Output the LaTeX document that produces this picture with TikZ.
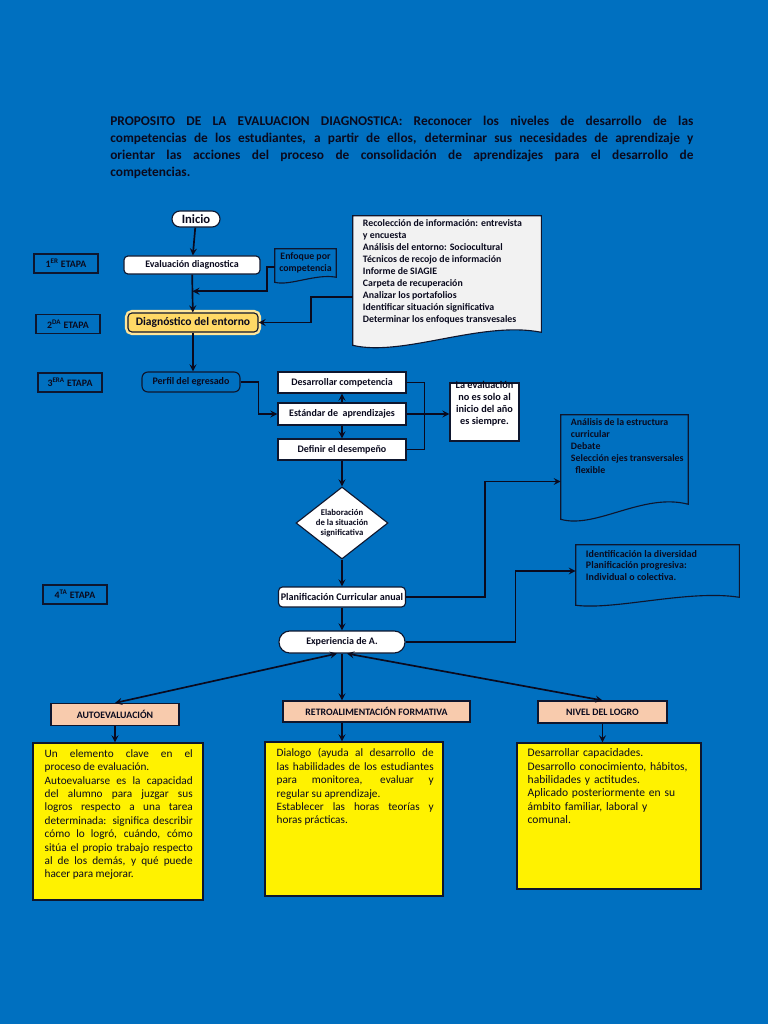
\documentclass[tikz,border=0pt]{standalone}
\usepackage{fontspec}
\setmainfont{Carlito}
\usetikzlibrary{shapes.geometric, arrows, calc}

\definecolor{bgblue}{RGB}{0,112,192}
\definecolor{edge}{RGB}{14,22,46}
\definecolor{ink}{RGB}{10,10,30}
\definecolor{peach}{RGB}{248,203,173}
\definecolor{gold}{RGB}{255,217,102}
\definecolor{halo}{RGB}{255,230,153}
\definecolor{paper}{RGB}{242,242,242}

\begin{document}
\begin{tikzpicture}[
    x=0.025cm, y=-0.025cm,
    >=stealth,
    arrow/.style={->, draw=ink, line width=1.2pt},
    link/.style={draw=ink, line width=1.2pt},
    stage/.style={rectangle, draw=edge, line width=0.8pt, fill=bgblue, text=ink, minimum width=1.6cm, minimum height=0.475cm, inner sep=1pt, font=\fontsize{7}{8}\selectfont\bfseries},
    flowbox/.style={rectangle, draw=edge, line width=0.8pt, fill=white, text=ink, inner sep=1pt, font=\fontsize{7.1}{8}\selectfont\bfseries},
    pill/.style={flowbox, rounded corners=0.2cm},
    decision/.style={diamond, draw=edge, line width=0.8pt, fill=white, text=ink, minimum width=2.3cm, minimum height=1.8cm, aspect=1.3, inner sep=0pt, align=center, font=\fontsize{6.2}{7.2}\selectfont\bfseries},
    docbody/.style={rectangle, inner sep=0pt},
    docline/.style={draw=edge, line width=0.8pt},
    doctext/.style={text=ink, inner sep=0pt, align=left, font=\fontsize{7}{8.5}\selectfont\bfseries},
    tag/.style={rectangle, draw=edge, line width=0.8pt, fill=peach, text=ink, inner sep=1pt, font=\fontsize{7}{8}\selectfont\bfseries},
    note/.style={rectangle, draw=edge, line width=0.8pt, fill=yellow},
    notetext/.style={text=ink, inner sep=0pt, font=\fontsize{8}{9.5}\selectfont},
    title/.style={text=ink, inner sep=0pt, text width=14.575cm, align=justify, font=\fontsize{9.5}{12.1}\selectfont\bfseries}
]
    \useasboundingbox (0,0) rectangle (768,1024);
    \fill[bgblue] (0,0) rectangle (768,1024);

    % purpose
    \node[title, anchor=north west] (purpose) at (110,116) {PROPOSITO DE LA EVALUACION DIAGNOSTICA: Reconocer los niveles de desarrollo de las\linebreak competencias de los estudiantes, a partir de ellos, determinar sus necesidades de aprendizaje y\linebreak orientar las acciones del proceso de consolidación de aprendizajes para el desarrollo de\linebreak competencias.};

    % stages
    \node[stage] (stage1) at (66,263.5) {1\textsuperscript{ER} ETAPA};
    \node[stage] (stage2) at (68,324) {2\textsuperscript{DA} ETAPA};
    \node[stage] (stage3) at (70,382.5) {3\textsuperscript{ERA} ETAPA};
    \node[stage] (stage4) at (75,594.5) {4\textsuperscript{TA} ETAPA};

    % main flow
    \node[pill, minimum width=1.2cm, minimum height=0.4cm, font=\fontsize{9}{10}\selectfont\bfseries] (inicio) at (196,219) {Inicio};
    \node[flowbox, rounded corners=0.1cm, minimum width=3.4cm, minimum height=0.45cm] (evald) at (192,265) {Evaluación diagnostica};
    \node[flowbox, rounded corners=0.1cm, fill=gold, preaction={draw=halo, line width=0.15cm}, minimum width=3.25cm, minimum height=0.475cm, font=\fontsize{8.2}{9}\selectfont\bfseries] (diag) at (193,322.5) {Diagnóstico del entorno};
    \coordinate (evalmid) at ($(evald.south)!0.44!(diag.north)$);
    \node[flowbox, fill=bgblue, rounded corners=0.15cm, minimum width=2.45cm, minimum height=0.5cm] (perfil) at (191,382) {Perfil del egresado};
    \node[flowbox, minimum width=3.2cm, minimum height=0.525cm] (desar) at (342,382.5) {Desarrollar competencia};
    \node[flowbox, minimum width=3.2cm, minimum height=0.55cm] (estand) at (342,414) {Estándar de \ aprendizajes};
    \node[flowbox, minimum width=3.2cm, minimum height=0.525cm] (defin) at (342,449.5) {Definir el desempeño};
    \node[decision] (elab) at (342,523) {Elaboración\\de la situación\\significativa};
    \node[flowbox, rounded corners=0.1cm, minimum width=3.175cm, minimum height=0.5cm, font=\fontsize{7.2}{8}\selectfont\bfseries] (planif) at (342,597) {Planificación Curricular anual};
    \node[pill, rounded corners=0.27cm, minimum width=3.15cm, minimum height=0.55cm] (exper) at (342,642) {Experiencia de A.};

    % side note
    \node[flowbox, minimum width=1.725cm, minimum height=1.45cm] (laeval) at (484.5,412) {};
    \node[doctext, font=\fontsize{7.3}{8.5}\selectfont\bfseries, align=center, anchor=north] (laevaltext) at ($(laeval.north)+(0,-1)$) {La evaluación\\no es solo al\\inicio del año\\es siempre.};

    % documents
    \node[docbody, minimum width=1.525cm, minimum height=0.7cm] (enfoque) at (305.5,263) {};
    \draw[docline, fill=bgblue] (enfoque.north west) -- (enfoque.north east) -- (enfoque.south east) .. controls +(-20,-4) and +(15,4) .. ($(enfoque.south west)+(0,5)$) -- cycle;
    \node[doctext, align=center] (enfoquetext) at (enfoque) {Enfoque por\\competencia};

    \node[docbody, minimum width=4.7cm, minimum height=2.9cm] (recol) at (447,274) {};
    \draw[docline, fill=paper] (recol.north west) -- (recol.north east) -- (recol.south east) .. controls +(-60,-12) and +(50,12) .. ($(recol.south west)+(0,13)$) -- cycle;
    \node[doctext, anchor=north west] (recoltext) at ($(recol.north west)+(10,4)$) {Recolección de información: entrevista\\y encuesta\\Análisis del entorno: Sociocultural\\Técnicos de recojo de información\\Informe de SIAGIE\\Carpeta de recuperación\\Analizar los portafolios\\Identificar situación significativa\\Determinar los enfoques transvesales};

    \node[docbody, minimum width=3.175cm, minimum height=2.225cm] (analisis) at (624.5,459.5) {};
    \draw[docline] (analisis.north west) -- (analisis.north east) -- (analisis.south east) .. controls +(-45,-12) and +(35,10) .. ($(analisis.south west)+(0,15)$) -- cycle;
    \node[doctext, font=\fontsize{7}{8.4}\selectfont\bfseries, anchor=north west] (analisistext) at ($(analisis.north west)+(10,4)$) {Análisis de la estructura\\curricular\\Debate\\Selección ejes transversales\\\ \ flexible};

    \node[docbody, minimum width=4.075cm, minimum height=1.3cm] (plan2) at (657.5,571) {};
    \draw[docline] (plan2.north west) -- (plan2.north east) -- (plan2.south east) .. controls +(-50,-8) and +(40,5) .. ($(plan2.south west)+(0,8)$) -- cycle;
    \node[doctext, font=\fontsize{7.1}{8.5}\selectfont\bfseries, anchor=north west] (plan2text) at ($(plan2.north west)+(10,5)$) {Identificación la diversidad\\Planificación progresiva:\\Individual o colectiva.};

    % evaluation types
    \node[tag, minimum width=3.2cm, minimum height=0.55cm] (auto) at (115,714.5) {AUTOEVALUACIÓN};
    \node[tag, minimum width=4.675cm, minimum height=0.525cm] (retro) at (376.5,711.5) {RETROALIMENTACIÓN FORMATIVA};
    \node[tag, minimum width=3.225cm, minimum height=0.55cm] (nivel) at (602.5,712) {NIVEL DEL LOGRO};

    \node[note, minimum width=4.25cm, minimum height=3.925cm] (autonote) at (118,821.5) {};
    \node[notetext, text width=3.7cm, align=justify, anchor=north west] (autotext) at ($(autonote.north west)+(12,7)$) {Un elemento clave en el\linebreak proceso de evaluación.\\Autoevaluarse es la capacidad\linebreak del alumno para juzgar sus\linebreak logros respecto a una tarea\linebreak determinada: significa describir\linebreak cómo lo logró, cuándo, cómo\linebreak sitúa el propio trabajo respecto\linebreak al de los demás, y qué puede\linebreak hacer para mejorar.};

    \node[note, minimum width=4.45cm, minimum height=3.85cm] (retronote) at (354,819) {};
    \node[notetext, text width=3.925cm, align=justify, anchor=north west] (retrotext) at ($(retronote.north west)+(12,7)$) {Dialogo (ayuda al desarrollo de\linebreak las habilidades de los estudiantes\linebreak para monitorea, evaluar y\linebreak regular su aprendizaje.\\Establecer las horas teorías y\linebreak horas prácticas.};

    \node[note, minimum width=4.6cm, minimum height=3.65cm] (nivelnote) at (609,816) {};
    \node[notetext, font=\fontsize{8.2}{9.5}\selectfont, text width=4.2cm, align=left, anchor=north west] (niveltext) at ($(nivelnote.north west)+(11,6)$) {Desarrollar capacidades.\\Desarrollo conocimiento, hábitos,\\habilidades y actitudes.\\Aplicado posteriormente en su\\ámbito familiar, laboral y\\comunal.};

    % connectors
    \draw[arrow] (inicio) -- (evald);
    \draw[arrow] (evald) -- (diag);
    \draw[arrow] ($(enfoque.west)+(0,4)$) -- ++(-8,0) |- (evalmid);
    \draw[arrow] ($(recol.west)+(0,23)$) -- ++(-42,0) |- (diag.east);
    \draw[arrow] (diag.south) -- (diag.south |- perfil.north);
    \draw[arrow] (perfil.east) -- ++(18,0) |- (estand.west);
    \draw[arrow] (estand) -- (desar);
    \draw[arrow] (estand) -- (defin);
    \draw[link] (desar.east) -- ++(18,0) |- (defin.east);
    \draw[arrow] (estand.east) -- (estand.east -| laeval.west);
    \draw[arrow] (defin) -- (elab);
    \draw[arrow] (elab) -- (planif);
    \draw[arrow] (planif.east) -- ++(79,0) |- ($(analisis.west)+(0,22)$);
    \draw[arrow] (planif) -- (exper);
    \draw[arrow] (exper.east) -- ++(110,0) |- (plan2.west);
    \draw[arrow, <->] ([xshift=-0.125cm]exper.south) -- (auto.north);
    \draw[arrow] (exper.south) -- (exper.south |- retro.north);
    \draw[arrow, <->] ([xshift=0.125cm]exper.south) -- (nivel.north);
    \draw[arrow] (auto.south) -- (auto.south |- autonote.north);
    \draw[arrow] (exper.south |- retro.south) -- (exper.south |- retronote.north);
    \draw[arrow] (nivel.south) -- (nivel.south |- nivelnote.north);
\end{tikzpicture}
\end{document}
